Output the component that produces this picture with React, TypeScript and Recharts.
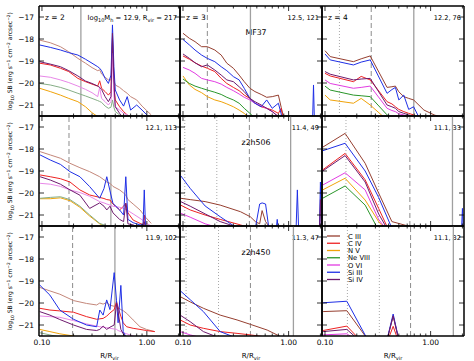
import React from "react";
import { LineChart, Line, XAxis, YAxis, ReferenceLine, Customized } from "recharts";

// species, in matplotlib draw order
const SPECIES = ["C III", "C IV", "N V", "Ne VIII", "O VI", "Si III", "Si IV"];
const KEYS = ["CIII", "CIV", "NV", "NeVIII", "OVI", "SiIII", "SiIV"];
const COLORS: Record<string, string> = {
  CIII: "#963f30",
  CIV: "#ee2222",
  NV: "#f0a30a",
  NeVIII: "#2a962a",
  OVI: "#e23ce2",
  SiIII: "#1f2fe6",
  SiIV: "#6e1a6e",
};
const SOFT: Record<string, string> = { CIII: "#c4877a", OVI: "#e887e8", NeVIII: "#86ae86" };

const X_TICKS = [0.1, 0.2, 0.3, 0.4, 0.5, 0.6, 0.7, 0.8, 0.9, 1, 2];
const X_MAJOR = [0.1, 1];
const Y_TICKS = [-21, -20, -19, -18, -17];

// ---- z=2, MF37
const aR = [0.095, 0.12, 0.15, 0.18, 0.22, 0.26, 0.3, 0.34, 0.355, 0.37, 0.4, 0.43, 0.455, 0.47, 0.485, 0.5, 0.55, 0.6, 0.65, 0.7, 0.8, 0.9, 1.0, 1.1];
const aCIII = [-18.05, -18.17, -18.35, -18.58, -18.88, -19.1, -19.3, -19.44, -19.4, -19.59, -19.74, -19.86, -19.86, -18.2, -19.9, -20.09, -20.2, -20.35, -20.47, -20.62, -20.77, -21.05, -21.26, -21.45];
const aCIV = [-19.1, -19.18, -19.33, -19.48, -19.79, -19.94, -20.05, -20.14, -19.9, -20.24, -20.39, -20.55, -20.4, -17.97, -20.2, -20.77, -21.08, -21.3, -21.45, -21.6, -22];
const aNV = [-20.24, -20.39, -20.55, -20.7, -20.85, -21.08, -21.35, -21.53, -21.6, -21.7, -22];
const aNeVIII = [-20.02, -20.09, -20.2, -20.32, -20.47, -20.59, -20.7, -20.8, -20.84, -20.88, -21.05, -21.15, -21.1, -20.77, -21.1, -21.3, -21.45, -21.6, -22];
const aOVI = [-19.68, -19.74, -19.86, -19.98, -20.14, -20.29, -20.44, -20.62, -20.2, -20.7, -20.85, -21.0, -20.85, -18.65, -20.6, -21.08, -21.23, -21.38, -21.45, -21.53, -21.7, -22];
const aSiIII = [-18.27, -18.38, -18.5, -18.62, -18.73, -18.92, -19.1, -19.26, -19.33, -19.44, -19.79, -20.02, -19.64, -17.36, -19.26, -20.32, -20.77, -21.05, -20.62, -21.23, -21.0, -21.23, -21.45, -21.68];
const aSiIV = [-19.03, -19.14, -19.26, -19.44, -19.68, -19.91, -20.02, -20.14, -20.2, -20.29, -20.62, -20.85, -20.62, -17.74, -19.86, -21.08, -21.38, -21.6, -21.8, -22];

// ---- z=3, MF37
const bR = [0.1, 0.115, 0.13, 0.15, 0.17, 0.2, 0.23, 0.26, 0.3, 0.34, 0.38, 0.43, 0.48, 0.55, 0.62, 0.7, 0.8, 0.85, 0.9, 1.68, 1.72, 1.76];
const bCIII = [-17.74, -17.97, -18.12, -18.35, -18.35, -18.5, -18.73, -19.1, -19.33, -19.64, -19.94, -20.24, -20.39, -20.52, -20.65, -20.62, -20.55, -21.1, -21.6];
const bCIV = [-18.77, -18.92, -19.08, -19.23, -19.33, -19.48, -19.79, -20.02, -20.2, -20.35, -20.55, -20.7, -20.92, -21.08, -21.15, -21.23, -21.38, -21.15, -21.8];
const bNV = [-19.68, -20.09, -20.29, -20.44, -20.62, -20.77, -20.85, -20.95, -21.08, -21.23, -21.38, -21.6, -22];
const bNeVIII = [-19.82, -20.02, -20.14, -20.24, -20.32, -20.42, -20.52, -20.65, -20.77, -20.92, -21.15, -21.38, -21.6, -22];
const bOVI = [-19.29, -19.41, -19.56, -19.79, -19.86, -19.94, -20.05, -20.2, -20.35, -20.5, -20.65, -20.77, -20.92, -21.05, -21.15, -21.3, -21.53, -21.7, -22];
const bSiIII = [-18.02, -18.27, -18.5, -18.73, -18.88, -19.03, -19.26, -19.44, -19.71, -19.86, -20.24, -20.7, -20.92, -21.08, -20.77, -21.15, -20.92, -21.4, -22, -22, -20.09, -22];
const bSiIV = [-18.68, -18.88, -19.08, -19.26, -19.18, -19.41, -19.64, -19.86, -19.94, -20.17, -20.39, -20.7, -20.85, -21.0, -21.15, -21.3, -21.53, -21.7, -22];

// ---- z=4, MF37
const cR = [0.1, 0.112, 0.186, 0.22, 0.268, 0.387, 0.43, 0.464, 0.5, 0.557, 0.62, 0.69, 0.864, 1.08, 1.33];
const cCIII = [-18.53, -18.8, -19.03, -18.9, -18.77, -20.2, -20.17, -20.14, -20.4, -20.62, -20.7, -20.77, -21.23, -21.45, -21.6];
const cCIV = [-19.56, -19.68, -19.94, -19.7, -19.86, -20.85, -20.95, -21.08, -21.2, -21.3, -21.38, -21.45, -21.8];
const cNV = [-20.55, -20.77, -20.92, -20.7, -21.0, -21.68, -22];
const cNeVIII = [-20.14, -20.32, -20.55, -20.58, -20.62, -21.45, -21.6, -21.8, -22];
const cOVI = [-19.86, -20.02, -20.24, -20.2, -20.14, -21.15, -21.25, -21.3, -21.4, -21.45, -21.55, -21.7, -22];
const cSiIII = [-18.68, -18.95, -19.18, -19.05, -18.95, -20.47, -20.3, -20.2, -20.77, -20.55, -21.2, -21.08, -22];
const cSiIV = [-19.48, -19.6, -19.86, -19.82, -19.79, -21.0, -21.08, -21.15, -21.3, -21.38, -21.45, -21.53, -22];

// ---- z=2, z2h506
const dR = [0.096, 0.12, 0.15, 0.185, 0.23, 0.285, 0.355, 0.39, 0.415, 0.445, 0.475, 0.55, 0.6, 0.63, 0.66, 0.74, 0.86, 0.92, 0.945, 0.97, 1.1];
const dCIII = [-18.12, -18.27, -18.42, -18.65, -18.85, -19.03, -19.26, -19.4, -19.5, -19.56, -19.7, -19.86, -20.0, -20.1, -20.3, -20.5, -20.77, -20.95, -21.0, -21.1, -21.38];
const dCIV = [-19.18, -19.26, -19.35, -19.5, -19.86, -20.09, -20.2, -20.25, -20.3, -20.32, -20.5, -20.77, -20.6, -20.47, -20.9, -21.23, -21.38, -21.45, -21.0, -21.5];
const dNV = [-20.26, -20.26, -20.22, -20.35, -20.65, -21.05, -21.4, -21.5, -21.6, -21.8, -22];
const dNeVIII = [-20.24, -20.2, -20.17, -20.3, -20.6, -21.0, -21.38, -21.45, -21.53, -21.7, -22];
const dOVI = [-19.56, -19.6, -19.7, -19.86, -19.98, -20.15, -20.39, -20.45, -20.5, -20.55, -20.6, -20.65, -20.7, -20.75, -20.8, -20.95, -21.15, -21.25, -21.3, -21.35, -21.5];
const dSiIII = [-18.27, -18.5, -18.7, -19.03, -19.26, -19.71, -20.24, -19.8, -19.26, -19.9, -20.47, -20.77, -21.0, -19.26, -21.2, -21.35, -21.45, -21.45, -19.86, -21.5];
const dSiIV = [-19.26, -19.41, -19.6, -19.86, -20.1, -20.7, -20.45, -20.6, -20.77, -20.6, -20.9, -21.2, -21.3, -20.47, -21.4, -21.45, -21.6, -21.6, -21.3, -21.6];

// ---- z=3, z2h506
const eR = [0.095, 0.117, 0.162, 0.225, 0.35, 0.434, 0.484, 0.532, 0.561, 0.605, 0.65, 0.75, 0.78, 0.81, 1.17, 1.21, 1.25, 1.95, 2.0, 2.05];
const eCIII = [-20.24, -20.3, -20.39, -20.55, -20.85, -21.08, -21.3, -21.4, -20.8, -21.3, -21.5, -21.7, -22];
const eCIV = [-20.55, -20.77, -21.0, -21.2, -21.45, -21.6, -22];
const eOVI = [-20.92, -21.1, -21.4, -21.6, -22];
const eSiIII = [-19.21, -19.79, -20.59, -21.08, -21.7, -22, -21.6, -20.5, -20.45, -20.5, -21.6, -22, -21.2, -22, -22, -19.86, -22, -22, -19.5, -22];
const eSiIV = [-20.39, -20.6, -20.95, -21.3, -21.6, -22, null, null, null, null, null, null, null, null, null, null, null, -22, -20.3, -22];

// ---- z=4, z2h506
const fR = [0.095, 0.155, 0.24, 0.322, 0.43, 0.645, 0.9, 1.2, 1.5, 1.95, 2.0, 2.05];
const fCIII = [-17.92, -17.29, -18.65, -20.0, -21.3, -21.53, -21.7];
const fCIV = [-18.95, -18.2, -19.4, -20.7, -22];
const fNV = [-19.86, -19.33, -20.32, -21.3, -22];
const fNeVIII = [-20.24, -19.68, -20.55, -21.7];
const fOVI = [-19.64, -19.08, -19.86, -21.2, -22];
const fSiIII = [-18.08, -17.74, -19.0, -20.2, -21.6, -22, null, null, null, -22, -20.7, -22];
const fSiIV = [-19.0, -18.3, -19.5, -20.95, -22];

// ---- z=2, z2h450
const gR = [0.095, 0.119, 0.148, 0.2, 0.266, 0.332, 0.356, 0.383, 0.414, 0.445, 0.488, 0.514, 0.532, 0.565, 0.595, 0.642, 0.74, 0.86, 0.99, 1.19];
const gCIII = [-19.29, -19.45, -19.6, -19.89, -20.02, -20.09, -20.0, -20.05, -19.98, -20.1, -20.15, -20.1, -20.2, -20.3, -20.35, -20.47, -20.77, -21.08, -21.2, -21.3];
const gCIV = [-20.24, -20.32, -20.36, -20.42, -20.62, -20.74, -20.72, -20.7, -20.6, -20.45, -20.3, -19.94, -20.2, -20.6, -20.9, -21.08, -21.15, -21.2, -21.25, -21.3];
const gNV = [-21.2, -21.3, -21.4, -21.5, -21.7, -22];
const gNeVIII = [-21.35, -21.45, -21.55, -21.7, -22];
const gOVI = [-20.59, -20.62, -20.65, -20.8, -20.95, -21.05, -21.08, -21.1, -21.12, -21.15, -21.18, -21.2, -21.25, -21.3, -21.35, -21.4, -21.5, -21.6, -22];
const gSiIII = [-19.18, -19.64, -20.32, -20.74, -21.0, -21.08, -20.32, -20.55, -19.86, -20.3, -18.62, -19.9, -20.9, -19.2, -21.3, -21.6, -22];
const gSiIV = [-20.39, -20.55, -20.75, -21.0, -21.2, -21.25, -21.2, -21.05, -21.2, -21.1, -21.0, -20.0, -20.4, -21.2, -21.4, -21.6, -22];

// ---- z=3, z2h450
const hR = [0.094, 0.117, 0.156, 0.225, 0.325, 0.434, 0.627, 0.84, 1.05];
const hCIII = [-19.71, -19.95, -20.24, -20.55, -20.77, -20.97, -21.23, -21.53, -21.7];
const hCIV = [-20.77, -21.0, -21.15, -21.3, -21.38, -21.45, -21.55, -22];
const hOVI = [-21.3, -21.45, -21.6, -22];
const hSiIII = [-19.44, -19.85, -20.39, -21.3, -21.6, -22];
const hSiIV = [-20.55, -20.85, -21.3, -21.6, -22];

// ---- z=4, z2h450
const iR = [0.096, 0.161, 0.249, 0.372, 0.442, 0.518];
const iCIII = [-20.39, -20.35, -21.6, -22, -20.6, -22];
const iCIV = [-21.25, -21.05, -22, -22, -21.06, -22];
const iOVI = [-21.45, -21.4, -22];
const iSiIII = [-19.99, -19.92, -21.6, -22, -20.5, -22];
const iSiIV = [-21.3, -21.2, -22, -22, -20.58, -22];

type VLine = { r: number; kind: "solid" | "dash" | "dot" };
type PanelDef = {
  col: number;
  row: number;
  r: number[];
  vals: Record<string, (number | null)[]>;
  vlines: VLine[];
  mass: string;
  z?: string;
  name?: string;
};

const PANELS: PanelDef[] = [
  { col: 0, row: 0, r: aR, vals: { CIII: aCIII, CIV: aCIV, NV: aNV, NeVIII: aNeVIII, OVI: aOVI, SiIII: aSiIII, SiIV: aSiIV }, vlines: [{ r: 0.235, kind: "solid" }], mass: "", z: "z = 2" },
  { col: 1, row: 0, r: bR, vals: { CIII: bCIII, CIV: bCIV, NV: bNV, NeVIII: bNeVIII, OVI: bOVI, SiIII: bSiIII, SiIV: bSiIV }, vlines: [{ r: 0.17, kind: "dash" }, { r: 0.435, kind: "solid" }], mass: "12.5, 121", z: "z = 3", name: "MF37" },
  { col: 2, row: 0, r: cR, vals: { CIII: cCIII, CIV: cCIV, NV: cNV, NeVIII: cNeVIII, OVI: cOVI, SiIII: cSiIII, SiIV: cSiIV }, vlines: [{ r: 0.137, kind: "dot" }, { r: 0.274, kind: "dash" }, { r: 0.693, kind: "solid" }], mass: "12.2, 76", z: "z = 4" },
  { col: 0, row: 1, r: dR, vals: { CIII: dCIII, CIV: dCIV, NV: dNV, NeVIII: dNeVIII, OVI: dOVI, SiIII: dSiIII, SiIV: dSiIV }, vlines: [{ r: 0.181, kind: "dash" }, { r: 0.454, kind: "solid" }], mass: "12.1, 113" },
  { col: 1, row: 1, r: eR, vals: { CIII: eCIII, CIV: eCIV, OVI: eOVI, SiIII: eSiIII, SiIV: eSiIV }, vlines: [{ r: 0.104, kind: "dot" }, { r: 0.209, kind: "dot" }, { r: 0.425, kind: "dash" }, { r: 1.045, kind: "solid" }], mass: "11.4, 49", name: "z2h506" },
  { col: 2, row: 1, r: fR, vals: { CIII: fCIII, CIV: fCIV, NV: fNV, NeVIII: fNeVIII, OVI: fOVI, SiIII: fSiIII, SiIV: fSiIV }, vlines: [{ r: 0.158, kind: "dot" }, { r: 0.322, kind: "dot" }, { r: 0.636, kind: "dash" }, { r: 1.61, kind: "solid" }], mass: "11.1, 33" },
  { col: 0, row: 2, r: gR, vals: { CIII: gCIII, CIV: gCIV, NV: gNV, NeVIII: gNeVIII, OVI: gOVI, SiIII: gSiIII, SiIV: gSiIV }, vlines: [{ r: 0.196, kind: "dash" }, { r: 0.496, kind: "solid" }], mass: "11.9, 102" },
  { col: 1, row: 2, r: hR, vals: { CIII: hCIII, CIV: hCIV, OVI: hOVI, SiIII: hSiIII, SiIV: hSiIV }, vlines: [{ r: 0.107, kind: "dot" }, { r: 0.217, kind: "dot" }, { r: 0.435, kind: "dash" }, { r: 1.11, kind: "solid" }], mass: "11.3, 47", name: "z2h450" },
  { col: 2, row: 2, r: iR, vals: { CIII: iCIII, CIV: iCIV, OVI: iOVI, SiIII: iSiIII, SiIV: iSiIV }, vlines: [{ r: 0.163, kind: "dot" }, { r: 0.327, kind: "dot" }, { r: 0.646, kind: "dash" }, { r: 1.64, kind: "solid" }], mass: "11.1, 32" },
];

const W = 474;
const H = 361;
const COL_X = [39, 180, 322];
const COL_W = [141, 142, 142];
const ROW_Y = [6, 116, 226];
const PH = 110;
const FONT = "DejaVu Sans";
const AX = 1; // thickness reserved for each axis

const VSTYLE = {
  solid: { stroke: "#a0a0a0", strokeWidth: 1.3, strokeDasharray: undefined },
  dash: { stroke: "#8c8c8c", strokeWidth: 1, strokeDasharray: "5 3" },
  dot: { stroke: "#a8a8a8", strokeWidth: 1, strokeDasharray: "1 2" },
};

const fmtY = (v: number) => `\u2212${Math.abs(v)}`;

const BottomTick = (props: any) => {
  const { x, y, payload, showLabel } = props;
  const major = X_MAJOR.includes(payload.value);
  return (
    <g>
      <line x1={x} y1={y} x2={x} y2={y - (major ? 5 : 2.5)} stroke="#000" strokeWidth={0.8} />
      {showLabel && major && (
        <text x={x} y={y + 9} textAnchor="middle" fontSize={7.5} fontFamily={FONT} fill="#000">
          {payload.value.toFixed(2)}
        </text>
      )}
    </g>
  );
};

const TopTick = (props: any) => {
  const { x, y, payload } = props;
  const major = X_MAJOR.includes(payload.value);
  return <line x1={x} y1={y} x2={x} y2={y + (major ? 5 : 2.5)} stroke="#000" strokeWidth={0.8} />;
};

const LeftTick = (props: any) => {
  const { x, y, payload, showLabel } = props;
  return (
    <g>
      <line x1={x} y1={y} x2={x + 5} y2={y} stroke="#000" strokeWidth={0.8} />
      {showLabel && (
        <text x={x - 5} y={y + 2.7} textAnchor="end" fontSize={7.5} fontFamily={FONT} fill="#000">
          {fmtY(payload.value)}
        </text>
      )}
    </g>
  );
};

const RightTick = (props: any) => {
  const { x, y } = props;
  return <line x1={x} y1={y} x2={x - 5} y2={y} stroke="#000" strokeWidth={0.8} />;
};

function Texts({ p }: { p: PanelDef }) {
  const L = COL_X[p.col];
  const R = L + COL_W[p.col];
  const T = ROW_Y[p.row];
  const sub = { fontSize: 5 };
  return (
    <g fontFamily={FONT} fill="#000">
      {p.z && (
        <text x={L + 6} y={T + 13.5} fontSize={7.5}>
          {p.z}
        </text>
      )}
      {p.col === 0 && p.row === 0 ? (
        <text x={R - 3} y={T + 13.5} fontSize={6.8} textAnchor="end">
          log<tspan {...sub} dy={2}>10</tspan>
          <tspan dy={-2}>M</tspan>
          <tspan {...sub} dy={2}>h</tspan>
          <tspan dy={-2}> = 12.9, R</tspan>
          <tspan {...sub} dy={2}>vir</tspan>
          <tspan dy={-2}> = 217</tspan>
        </text>
      ) : (
        <text x={R - 3} y={T + 13.5} fontSize={6.6} textAnchor="end">
          {p.mass}
        </text>
      )}
      {p.name && (
        <text x={L + 76} y={T + 28.5} fontSize={7.8} textAnchor="middle">
          {p.name}
        </text>
      )}
      {p.col === 0 && (
        <text transform={`translate(12, ${T + PH / 2}) rotate(-90)`} fontSize={6} textAnchor="middle">
          log<tspan fontSize={4.4} dy={1.5}>10</tspan>
          <tspan dy={-1.5}> SB (erg s</tspan>
          <tspan fontSize={4.4} dy={-2.3}>{"\u22121"}</tspan>
          <tspan dy={2.3}> cm</tspan>
          <tspan fontSize={4.4} dy={-2.3}>{"\u22122"}</tspan>
          <tspan dy={2.3}> arcsec</tspan>
          <tspan fontSize={4.4} dy={-2.3}>{"\u22122"}</tspan>
          <tspan dy={2.3}>)</tspan>
        </text>
      )}
      {p.row === 2 && (
        <text x={(L + R) / 2} y={T + PH + 22} fontSize={7} textAnchor="middle">
          R/R<tspan fontSize={5} dy={1.5}>vir</tspan>
        </text>
      )}
      {p.col === 2 && p.row === 2 && (
        <g>
          {KEYS.map((k, i) => (
            <g key={k}>
              <line x1={L + 5} x2={L + 18} y1={T + 10 + i * 7.25} y2={T + 10 + i * 7.25} stroke={COLORS[k]} strokeWidth={1.3} />
              <text x={L + 26} y={T + 12.6 + i * 7.25} fontSize={6.8} fill="#000">
                {SPECIES[i]}
              </text>
            </g>
          ))}
        </g>
      )}
    </g>
  );
}

function Panel({ p }: { p: PanelDef }) {
  const L = COL_X[p.col];
  const PW = COL_W[p.col];
  const T = ROW_Y[p.row];
  const rows = p.r.map((rv, i) => {
    const row: Record<string, number | null> = { r: rv };
    KEYS.forEach((k) => {
      row[k] = p.vals[k]?.[i] ?? null;
    });
    return row;
  });
  const axisLine = { stroke: "#000", strokeWidth: 1.5 };
  const xDomain = [0.0937, 2.07];
  const yDomain = [-21.5, -16.5];
  return (
    <div style={{ position: "absolute", left: 0, top: 0 }}>
      <LineChart
        width={W}
        height={H}
        data={rows}
        margin={{ left: L - AX, top: T - AX, right: W - L - PW - AX, bottom: H - T - PH - AX }}
      >
        <XAxis xAxisId="b" dataKey="r" type="number" scale="log" domain={xDomain} allowDataOverflow ticks={X_TICKS} interval={0} height={AX} tickSize={0} tickMargin={0} axisLine={axisLine} tickLine={false} tick={(tp: any) => <BottomTick {...tp} showLabel={p.row === 2} />} />
        <XAxis xAxisId="t" orientation="top" dataKey="r" type="number" scale="log" domain={xDomain} allowDataOverflow ticks={X_TICKS} interval={0} height={AX} tickSize={0} tickMargin={0} axisLine={axisLine} tickLine={false} tick={(tp: any) => <TopTick {...tp} />} />
        <YAxis yAxisId="l" type="number" domain={yDomain} allowDataOverflow ticks={Y_TICKS} interval={0} width={AX} tickSize={0} tickMargin={0} axisLine={axisLine} tickLine={false} tick={(tp: any) => <LeftTick {...tp} showLabel={p.col === 0} />} />
        <YAxis yAxisId="r" orientation="right" type="number" domain={yDomain} allowDataOverflow ticks={Y_TICKS} interval={0} width={AX} tickSize={0} tickMargin={0} axisLine={axisLine} tickLine={false} tick={(tp: any) => <RightTick {...tp} />} />
        {p.vlines.map((v, i) => (
          <ReferenceLine key={i} xAxisId="b" yAxisId="l" x={v.r} {...VSTYLE[v.kind]} />
        ))}
        {KEYS.filter((k) => p.vals[k]).map((k) => (
          <Line
            key={k}
            xAxisId="b"
            yAxisId="l"
            dataKey={k}
            type="linear"
            stroke={p.col === 0 && SOFT[k] ? SOFT[k] : COLORS[k]}
            strokeWidth={1}
            dot={false}
            activeDot={false}
            connectNulls={false}
            isAnimationActive={false}
          />
        ))}
        <Customized component={() => <Texts p={p} />} />
      </LineChart>
    </div>
  );
}

export default function App() {
  return (
    <div style={{ position: "absolute", left: 0, top: 0, width: W, height: H, background: "#fff", fontFamily: FONT }}>
      {PANELS.map((p, i) => (
        <Panel key={i} p={p} />
      ))}
    </div>
  );
}
